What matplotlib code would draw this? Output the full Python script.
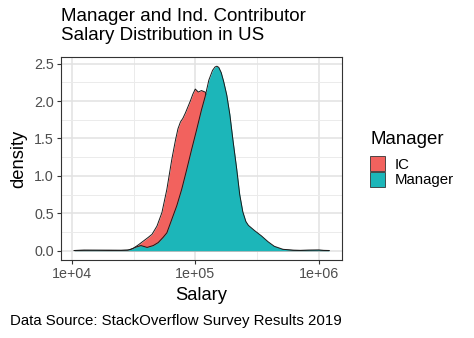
import numpy as np
import matplotlib
matplotlib.use("Agg")
import matplotlib.pyplot as plt
from matplotlib.patches import Patch
from matplotlib.ticker import FixedLocator, FuncFormatter

plt.rcParams['font.family'] = ['Liberation Sans', 'DejaVu Sans']

# densidad estimada sobre log10(salario)
log_ic = [4.02, 4.10, 4.20, 4.30, 4.40, 4.46, 4.50, 4.54, 4.58, 4.62, 4.65, 4.69,
          4.73, 4.77, 4.81, 4.84, 4.86, 4.88, 4.90, 4.92, 4.94, 4.96, 4.98, 5.00,
          5.025, 5.05, 5.08, 5.12, 5.16, 5.20, 5.25, 5.30, 5.35, 5.40, 5.45, 5.50,
          5.60, 5.70, 5.80, 5.90, 6.00, 6.08]
dens_ic = [0.004, 0.008, 0.006, 0.008, 0.006, 0.010, 0.035, 0.080, 0.130, 0.180, 0.220, 0.330,
           0.510, 0.820, 1.220, 1.480, 1.630, 1.720, 1.770, 1.840, 1.920, 2.000, 2.090, 2.160,
           2.120, 2.140, 2.120, 2.000, 1.850, 1.600, 1.200, 0.800, 0.500, 0.300, 0.200, 0.140,
           0.070, 0.015, 0.005, 0.003, 0.004, 0.002]

log_mgr = [4.02, 4.10, 4.20, 4.30, 4.40, 4.45, 4.48, 4.52, 4.56, 4.61, 4.66, 4.70,
           4.74, 4.77, 4.81, 4.85, 4.89, 4.93, 4.97, 5.01, 5.05, 5.08, 5.11, 5.14,
           5.16, 5.175, 5.19, 5.21, 5.23, 5.255, 5.28, 5.305, 5.335, 5.36, 5.385, 5.41,
           5.43, 5.48, 5.535, 5.59, 5.64, 5.71, 5.79, 5.85, 5.92, 6.00, 6.04, 6.085]
dens_mgr = [0.004, 0.007, 0.008, 0.005, 0.006, 0.008, 0.020, 0.050, 0.070, 0.045, 0.070, 0.110,
            0.180, 0.240, 0.420, 0.600, 0.820, 1.080, 1.350, 1.610, 1.880, 2.060, 2.280, 2.410,
            2.455, 2.465, 2.450, 2.380, 2.260, 2.080, 1.820, 1.480, 1.100, 0.750, 0.520, 0.390,
            0.340, 0.270, 0.200, 0.120, 0.060, 0.020, 0.008, 0.006, 0.010, 0.012, 0.006, 0.004]

grupos = ["IC", "Manager"]
colores = {"IC": "#F2625E", "Manager": "#1CB6B9"}
datos = {"IC": (log_ic, dens_ic), "Manager": (log_mgr, dens_mgr)}

if __name__ == "__main__":
    fig = plt.figure(figsize=(4.74, 3.38), dpi=100)
    ax = fig.add_axes([61 / 474, 1 - 260 / 338, (342 - 61) / 474, (260 - 57) / 338])

    for g in grupos:
        lx, d = datos[g]
        x = 10 ** np.array(lx)
        ax.fill_between(x, 0, d, color=colores[g], lw=0, zorder=2)
        ax.plot(x, d, color="#1A1A1A", lw=0.7, zorder=2)

    ax.set_xscale("log")
    ax.set_xlim(10 ** 3.913, 10 ** 6.188)
    ax.set_ylim(-0.123, 2.588)

    # rejilla estilo theme_bw
    ax.xaxis.set_major_locator(FixedLocator([1e4, 1e5, 1e6]))
    ax.xaxis.set_minor_locator(FixedLocator([10 ** 4.5, 10 ** 5.5]))
    ax.xaxis.set_major_formatter(FuncFormatter(lambda v, p: f"{v:.0e}"))
    ax.xaxis.set_minor_formatter(FuncFormatter(lambda v, p: ""))
    ax.set_yticks([0, 0.5, 1.0, 1.5, 2.0, 2.5])
    ax.set_yticks([0.25, 0.75, 1.25, 1.75, 2.25], minor=True)
    ax.yaxis.set_major_formatter(FuncFormatter(lambda v, p: f"{v:.1f}"))
    ax.grid(which="major", color="#E2E2E2", lw=1.1, zorder=0)
    ax.grid(which="minor", color="#EBEBEB", lw=0.7, zorder=0)
    ax.set_axisbelow(True)
    ax.tick_params(which="major", length=3, width=0.8, color="#333333",
                   labelsize=10.3, labelcolor="#4D4D4D", pad=2)
    ax.tick_params(which="minor", length=0)
    for s in ax.spines.values():
        s.set_color("#333333")
        s.set_linewidth(0.8)

    ax.set_xlabel("Salary", fontsize=13.2, labelpad=4)
    ax.set_ylabel("density", fontsize=13.2, labelpad=5)

    fig.text(61 / 474, 1 - 8 / 338, "Manager and Ind. Contributor\nSalary Distribution in US",
             ha="left", va="top", fontsize=13.5, linespacing=1.12)
    fig.text(342 / 474, 1 - 321 / 338, "Data Source: StackOverflow Survey Results 2019",
             ha="right", va="center", fontsize=10.8)

    handles = [Patch(facecolor=colores[g], edgecolor="#333333", lw=0.6) for g in grupos]
    leg = ax.legend(handles, grupos, title="Manager", loc="upper left",
                    bbox_to_anchor=(370 / 474, 1 - 131 / 338), bbox_transform=fig.transFigure,
                    frameon=False, fontsize=10.8, title_fontsize=13.4, borderpad=0,
                    labelspacing=0.0, handlelength=1.0, handleheight=1.15,
                    handletextpad=0.65, borderaxespad=0)
    leg._legend_box.align = "left"
    leg._legend_box.sep = 6

    plt.savefig("out.png", dpi=100)
